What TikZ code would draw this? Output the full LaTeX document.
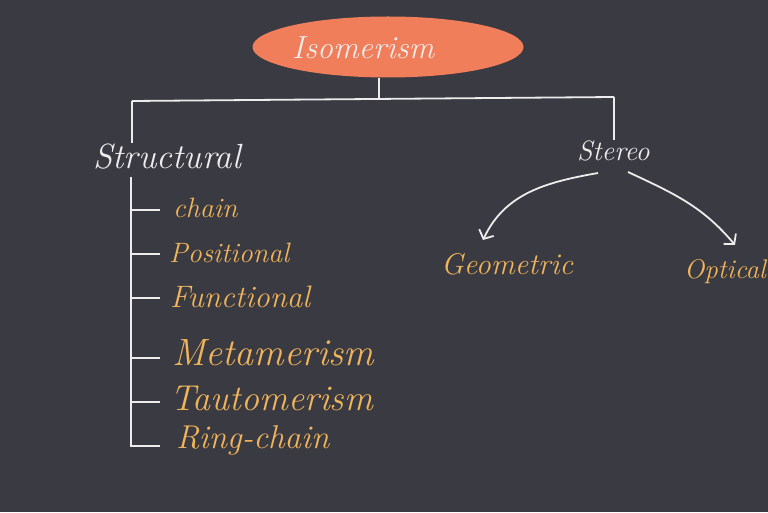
\documentclass[tikz,border=0pt]{standalone}
\usepackage{tikz}
\usetikzlibrary{positioning, shapes.geometric, arrows.meta}

\definecolor{board}{HTML}{3A3A42}
\definecolor{blob}{HTML}{F07E5A}
\definecolor{chalk}{HTML}{ECECEC}
\definecolor{marker}{HTML}{F0B45A}

\begin{document}
\begin{tikzpicture}[x=1pt, y=1pt]
    \tikzstyle{topic} = [ellipse, fill=blob, minimum width=271pt, minimum height=61pt, inner sep=0pt]
    \tikzstyle{head} = [anchor=mid west, inner sep=0pt, text=chalk, font=\itshape\fontsize{32}{38}\selectfont]
    \tikzstyle{kind} = [anchor=mid west, inner sep=0pt, text=marker, font=\itshape\fontsize{30}{36}\selectfont]
    \tikzstyle{wire} = [chalk, line width=1.8pt]
    \tikzstyle{arrow} = [chalk, line width=1.8pt, -{Straight Barb[length=7pt, width=16pt]}]

    % board
    \fill[board] (0,0) rectangle (768,512);

    % Nodes
    \node (iso) [topic] at (388,465) {};
    \node (iso_text) [head] at (292,456) {Isomerism};
    \node (structural) [head, font=\itshape\fontsize{35}{42}\selectfont] at (93,346) {Structural};
    \node (stereo) [head, font=\itshape\fontsize{28}{34}\selectfont] at (577,354) {Stereo};

    \node (chain) [kind, font=\itshape\fontsize{28}{34}\selectfont] at (173,297) {chain};
    \node (positional) [kind, font=\itshape\fontsize{28}{34}\selectfont] at (169,252) {Positional};
    \node (functional) [kind, font=\itshape\fontsize{31}{37}\selectfont] at (170,207) {Functional};
    \node (metamerism) [kind, font=\itshape\fontsize{38}{44}\selectfont] at (172,149) {Metamerism};
    \node (tautomerism) [kind, font=\itshape\fontsize{36}{42}\selectfont] at (170,104) {Tautomerism};
    \node (ringchain) [kind, font=\itshape\fontsize{33}{39}\selectfont] at (176,66) {Ring-chain};

    \node (geometric) [kind] at (441,240) {Geometric};
    \node (optical) [kind, font=\itshape\fontsize{27}{32}\selectfont] at (684,236) {Optical};

    % Coordinates
    \coordinate (split) at (379,413);
    \coordinate (left) at (132,411);
    \coordinate (right) at (614,415);
    \coordinate (spine) at (131,335);
    \coordinate (foot) at (131,66);

    % Tree
    \draw [wire] ([xshift=-9pt]iso.south) -- (split);
    \draw [wire] (left) -- (right);
    \draw [wire] (left) -- (left |- structural.north);
    \draw [wire] (right) -- (right |- stereo.north);
    \draw [wire] (spine) -- (foot) -- ++(29,0);
    \foreach \y in {302, 258, 214, 154, 110} {
        \draw [wire] (131,\y) -- ++(29,0);
    }

    % Arrows
    \draw [arrow] (598,339) to[out=190, in=65] (483,272);
    \draw [arrow] (628,340) to[out=-25, in=130] (735,267);
\end{tikzpicture}
\end{document}
